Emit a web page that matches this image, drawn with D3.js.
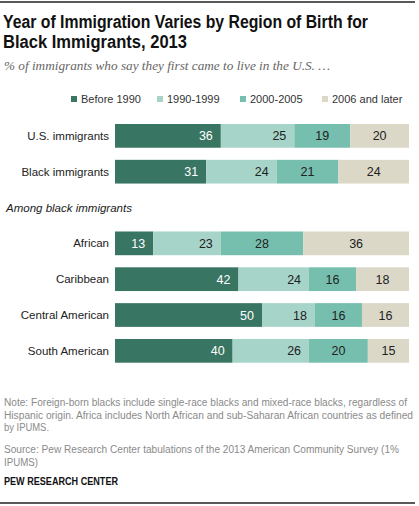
<!DOCTYPE html>
<html>
<head>
<meta charset="utf-8">
<script src="https://cdn.jsdelivr.net/npm/d3@7"></script>
<style>
  body { margin: 0; background: #fff; }
  svg { display: block; }
</style>
</head>
<body>
<svg id="chart"></svg>
<script>
// Chart data
const categories = ['U.S. immigrants', 'Black immigrants', 'African', 'Caribbean', 'Central American', 'South American'];
const seriesNames = ['Before 1990', '1990-1999', '2000-2005', '2006 and later'];
const before1990 = [36, 31, 13, 42, 50, 40];
const from1990to1999 = [25, 24, 23, 24, 18, 26];
const from2000to2005 = [19, 21, 28, 16, 16, 20];
const from2006 = [20, 24, 36, 18, 16, 15];
const groupHeading = 'Among black immigrants';

const colors = ['#387562', '#a6d4c8', '#76beae', '#dbd8c7'];
const labelColors = ['#fff', '#222', '#222', '#222'];

const W = 419, H = 506;
const svg = d3.select('#chart').attr('width', W).attr('height', H);

const sans = '"Liberation Sans", Arial, sans-serif';

// top and bottom rules
svg.append('line').attr('x1', 0).attr('x2', 415).attr('y1', 2).attr('y2', 2)
  .attr('stroke', '#222').attr('stroke-width', 1.5);
svg.append('line').attr('x1', 0).attr('x2', 415).attr('y1', 503).attr('y2', 503)
  .attr('stroke', '#222').attr('stroke-width', 1.5);

// title + subtitle (squeezed to the condensed face of the original)
const titleLines = [
  { text: 'Year of Immigration Varies by Region of Birth for', width: 365 },
  { text: 'Black Immigrants, 2013', width: 184 }
];
svg.append('g').selectAll('text').data(titleLines).join('text')
  .attr('x', 3).attr('y', (d, i) => 28 + i * 20)
  .attr('font-family', sans).attr('font-weight', 'bold').attr('font-size', 17.5).attr('fill', '#111')
  .attr('textLength', d => d.width).attr('lengthAdjust', 'spacingAndGlyphs')
  .text(d => d.text);

svg.append('text').attr('x', 4).attr('y', 70)
  .attr('font-family', '"Liberation Serif", Georgia, serif').attr('font-style', 'italic')
  .attr('font-size', 13.5).attr('fill', '#666')
  .attr('textLength', 326).attr('lengthAdjust', 'spacingAndGlyphs')
  .text('% of immigrants who say they first came to live in the U.S. …');

// legend
const legendX = [71, 157, 240, 322];
const legend = svg.append('g').selectAll('g').data(seriesNames).join('g')
  .attr('transform', (d, i) => `translate(${legendX[i]},96)`);
legend.append('rect').attr('width', 6).attr('height', 6).attr('fill', (d, i) => colors[i]);
legend.append('text').attr('x', 10).attr('y', 6.5)
  .attr('font-family', sans).attr('font-size', 11).attr('fill', '#333').text(d => d);

// rows: insert heading slot after the two overall rows
const rows = [categories[0], categories[1], groupHeading, ...categories.slice(2)];
const table = categories.map((c, i) => ({
  category: c,
  'Before 1990': before1990[i],
  '1990-1999': from1990to1999[i],
  '2000-2005': from2000to2005[i],
  '2006 and later': from2006[i]
}));

const x = d3.scaleLinear().domain([0, 100]).range([115, 409]).clamp(true);
const y = d3.scaleBand().domain(rows).range([124, 362.7]).paddingInner(0.338).paddingOuter(0);

const stacked = d3.stack().keys(seriesNames)(table);

const layers = svg.append('g').selectAll('g').data(stacked).join('g')
  .attr('fill', (d, i) => colors[i]);

layers.selectAll('rect').data(d => d).join('rect')
  .attr('x', d => x(d[0]))
  .attr('y', d => y(d.data.category))
  .attr('width', d => x(d[1]) - x(d[0]))
  .attr('height', y.bandwidth());

// value labels: first two series right-aligned, last two centred
layers.each(function (layer, i) {
  d3.select(this).selectAll('text').data(layer).join('text')
    .attr('x', d => i < 2 ? x(d[1]) - 8 : (x(d[0]) + x(d[1])) / 2)
    .attr('y', d => y(d.data.category) + y.bandwidth() / 2)
    .attr('dy', '0.36em')
    .attr('text-anchor', i < 2 ? 'end' : 'middle')
    .attr('font-family', sans).attr('font-size', 12.5)
    .attr('fill', labelColors[i])
    .text(d => d.data[layer.key]);
});

// category labels
svg.append('g').selectAll('text').data(categories).join('text')
  .attr('x', 109)
  .attr('y', d => y(d) + y.bandwidth() / 2)
  .attr('dy', '0.36em')
  .attr('text-anchor', 'end')
  .attr('font-family', sans).attr('font-size', 11.5).attr('fill', '#222')
  .text(d => d);

svg.append('text').attr('x', 6).attr('y', y(groupHeading) + y.bandwidth() / 2)
  .attr('dy', '0.36em')
  .attr('font-family', sans).attr('font-style', 'italic').attr('font-size', 11.5).attr('fill', '#222')
  .text(groupHeading);

// notes
const footLines = [
  { text: 'Note: Foreign-born blacks include single-race blacks and mixed-race blacks, regardless of', y: 406, width: 403 },
  { text: 'Hispanic origin. Africa includes North African and sub-Saharan African countries as defined', y: 418.5, width: 409 },
  { text: 'by IPUMS.', y: 431, width: 45 },
  { text: 'Source: Pew Research Center tabulations of the 2013 American Community Survey (1%', y: 453, width: 395 },
  { text: 'IPUMS)', y: 465.5, width: 34 }
];
svg.append('g').selectAll('text').data(footLines).join('text')
  .attr('x', 4).attr('y', d => d.y)
  .attr('font-family', sans).attr('font-size', 10).attr('fill', '#8a8a8a')
  .attr('textLength', d => d.width).attr('lengthAdjust', 'spacingAndGlyphs')
  .text(d => d.text);
svg.append('text').attr('x', 4).attr('y', 485)
  .attr('font-family', sans).attr('font-weight', 'bold').attr('font-size', 10.5).attr('fill', '#111')
  .attr('textLength', 114).attr('lengthAdjust', 'spacingAndGlyphs')
  .text('PEW RESEARCH CENTER');
</script>
</body>
</html>
